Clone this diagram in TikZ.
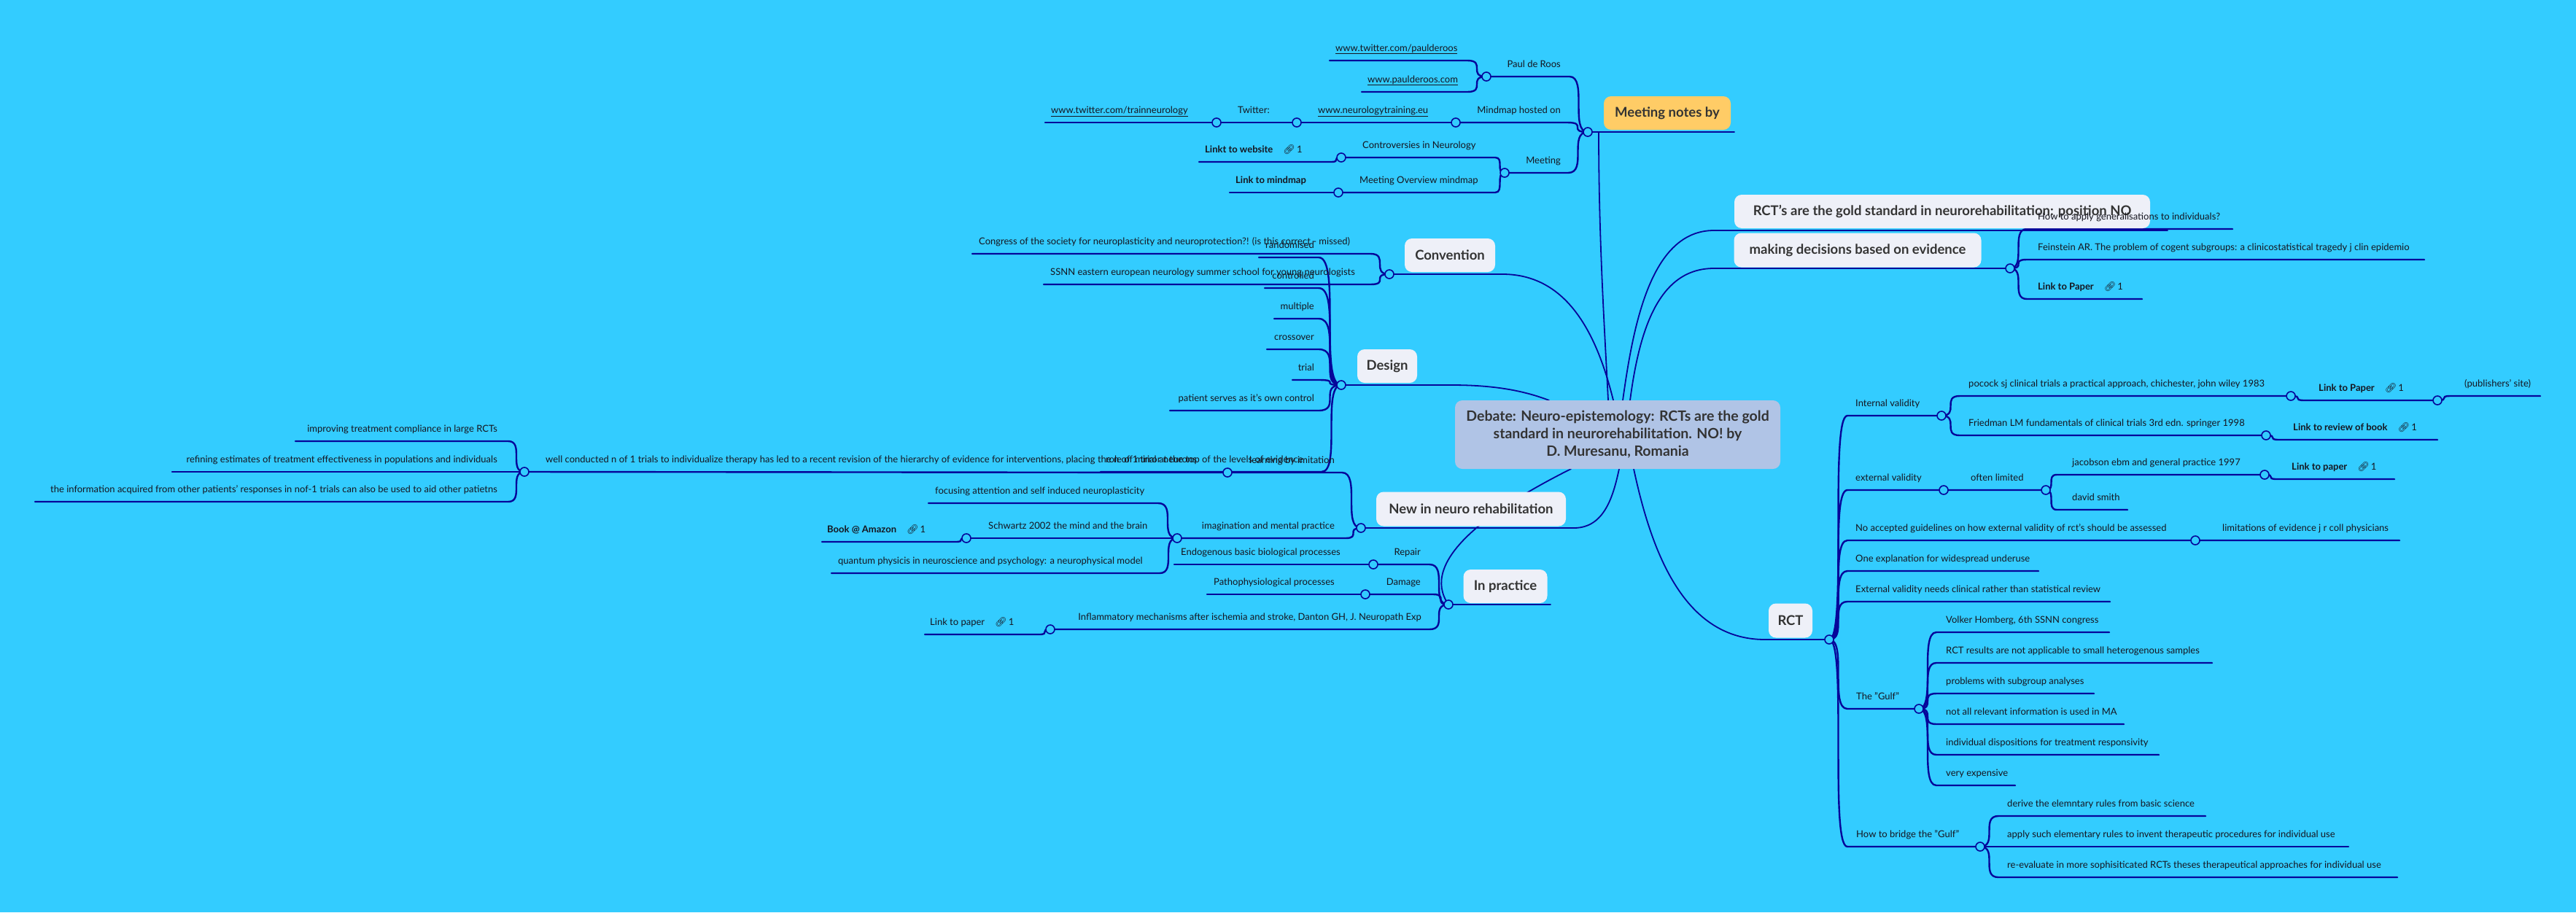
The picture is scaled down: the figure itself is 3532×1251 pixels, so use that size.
\documentclass[tikz,border=0pt]{standalone}
\usepackage{fontspec}
\setmainfont{Lato}
\newfontfamily\emo{Noto Emoji}
\definecolor{bg}{HTML}{33CCFF}
\definecolor{ln}{HTML}{06069A}
\definecolor{tx}{HTML}{15151F}
\definecolor{bx}{HTML}{EEF0F8}
\definecolor{rt}{HTML}{B0C4E6}
\definecolor{yl}{HTML}{FFCC66}
\tikzset{
 lf/.style={draw=ln,line width=2.4pt,line cap=round},
 knob/.style={circle,draw=ln,fill=bg,line width=1.6pt,minimum size=12pt,inner sep=0pt},
 lbl/.style={text=tx,font=\fontsize{13}{15}\selectfont,inner sep=0pt},
 lblb/.style={lbl,font=\fontsize{13}{15}\selectfont\bfseries},
 box/.style={rounded corners=10pt,fill=bx,text=black!80,font=\fontsize{18.5}{22}\selectfont\bfseries,inner sep=0pt,align=center}
}
\newcommand\lineL[5]{\draw[lf] (#1,#3) -- (#2,#3) .. controls (#4,#3) and (#2,#5) .. (#4,#5);}
\newcommand\lineR[5]{\draw[lf] (#4,#5) .. controls (#1,#5) and (#4,#3) .. (#1,#3) -- (#2,#3);}
\newcommand\T[3]{\node[lbl,anchor=base west] at (#1,#2-13) {#3};}
\newcommand\TR[3]{\node[lbl,anchor=base east] at (#1,#2-13) {#3};}
\newcommand\TB[3]{\node[lblb,anchor=base west] at (#1,#2-13) {#3\hspace{14pt}{\normalfont\emo 🔗}\,{\normalfont 1}};}
\newcommand\TL[3]{\node[lbl,anchor=base west] at (#1,#2-13) {#3\hspace{14pt}{\emo 🔗}\,1};}
\begin{document}
\begin{tikzpicture}[x=1pt,y=-1pt]
\fill[bg] (0,0) rectangle (3532,1251);
\useasboundingbox (0,0) rectangle (3532,1251);
% ---- connectors to root
\draw[lf,line width=1.8pt] (2177,181) -- (2378,181);
\draw[lf,line width=1.8pt] (2192,181) .. controls (2192,330) and (2200,450) .. (2205,549);
\draw[lf,line width=1.8pt] (2350,316) -- (2972,316);
\draw[lf,line width=1.8pt] (2350,316) .. controls (2265,316) and (2240,440) .. (2225,549);
\draw[lf,line width=1.8pt] (2350,368) -- (2756,368);
\draw[lf,line width=1.8pt] (2350,368) .. controls (2275,368) and (2248,450) .. (2235,549);
\draw[lf,line width=1.8pt] (1905,376) -- (2060,376) .. controls (2150,376) and (2190,460) .. (2212,549);
\draw[lf,line width=1.8pt] (1839,528) -- (1990,528) .. controls (2050,528) and (2090,536) .. (2124,549);
\draw[lf,line width=1.8pt] (1866,724) -- (2158,724) .. controls (2200,724) and (2212,680) .. (2220,643);
\draw[lf,line width=1.8pt] (1986,829) -- (2126,829);
\draw[lf,line width=1.8pt] (1986,829) .. controls (1945,770) and (2040,700) .. (2154,643);
\draw[lf,line width=1.8pt] (2508,877) -- (2420,877) .. controls (2310,877) and (2265,760) .. (2240,643);
% ---- meeting notes
\lineL{2038}{2152}{105}{2177}{181}
\lineL{1823}{2012}{83}{2038}{105}
\lineL{1867}{2012}{126}{2038}{105}
\lineL{1996}{2149}{168}{2177}{181}
\draw[lf] (1433,168) -- (1996,168);
\lineL{2063}{2150}{237}{2177}{181}
\lineL{1839}{2050}{216}{2063}{237}
\lineL{1644}{1825}{222}{1839}{216}
\lineL{1835}{2050}{264}{2063}{237}
\draw[lf] (1686,264) -- (1835,264);
% ---- convention
\lineL{1333}{1879}{348}{1905}{376}
\lineL{1431}{1879}{390}{1905}{376}
% ---- design
\lineL{1726}{1808}{353}{1839}{528}
\lineL{1734}{1808}{395}{1839}{528}
\lineL{1747}{1808}{437}{1839}{528}
\lineL{1737}{1808}{479}{1839}{528}
\lineL{1772}{1808}{521}{1839}{528}
\lineL{1604}{1808}{563}{1839}{528}
\lineL{1509}{1812}{647}{1839}{528}
% ---- new in neuro
\lineL{1683}{1840}{648}{1866}{724}
\draw[lf] (719,647) -- (1683,648);
\lineL{405}{697}{605}{719}{647}
\draw[lf] (236,647) -- (719,647);
\lineL{48}{697}{688}{719}{647}
\lineL{1614}{1845}{738}{1866}{724}
\lineL{1273}{1588}{690}{1614}{738}
\draw[lf] (1325,738) -- (1614,738);
\lineL{1127}{1310}{743}{1325}{738}
\lineL{1140}{1590}{786}{1614}{738}
% ---- in practice
\lineL{1883}{1960}{774}{1986}{829}
\draw[lf] (1610,774) -- (1883,774);
\lineL{1872}{1965}{815}{1986}{829}
\draw[lf] (1655,815) -- (1872,815);
\lineL{1440}{1960}{863}{1986}{829}
\lineL{1268}{1425}{870}{1440}{863}
% ---- making decisions
\lineR{2779}{3061}{314}{2756}{368}
\lineR{2779}{3324}{356}{2756}{368}
\lineR{2779}{2937}{410}{2756}{368}
% ---- RCT
\lineR{2533}{2662}{570}{2508}{877}
\lineR{2687}{3141}{543}{2662}{570}
\lineR{3160}{3342}{549}{3141}{543}
\lineR{3360}{3483}{543}{3342}{549}
\lineR{2687}{3107}{597}{2662}{570}
\lineR{3125}{3342}{603}{3107}{597}
\lineR{2533}{2805}{672}{2508}{877}
\lineR{2820}{3105}{651}{2805}{672}
\lineR{3122}{3283}{657}{3105}{651}
\lineR{2820}{2917}{699}{2805}{672}
\lineR{2533}{3290}{741}{2508}{877}
\lineR{2533}{2795}{783}{2508}{877}
\lineR{2533}{2893}{825}{2508}{877}
\lineR{2533}{2631}{972}{2508}{877}
\lineR{2655}{2892}{867}{2631}{972}
\lineR{2655}{3033}{909}{2631}{972}
\lineR{2655}{2871}{951}{2631}{972}
\lineR{2655}{2912}{993}{2631}{972}
\lineR{2655}{2960}{1035}{2631}{972}
\lineR{2655}{2763}{1077}{2631}{972}
\lineR{2533}{2715}{1161}{2508}{877}
\lineR{2740}{3024}{1119}{2715}{1161}
\lineR{2740}{3220}{1161}{2715}{1161}
\lineR{2740}{3287}{1203}{2715}{1161}
% ---- boxes
\node[box,fill=yl,minimum width=174pt,minimum height=46pt] (meet) at (2286,155) {Meeting notes by};
\node[box,minimum width=570pt,minimum height=46pt] (gold) at (2663,290) {RCT's are the gold standard in neurorehabilitation: position NO};
\node[box,minimum width=339pt,minimum height=47pt] (dec) at (2547,343) {making decisions based on evidence};
\node[box,minimum width=124pt,minimum height=46pt] (conv) at (1988,350) {Convention};
\node[box,minimum width=82pt,minimum height=46pt] (design) at (1902,502) {Design};
\node[box,fill=rt,minimum width=446pt,minimum height=94pt,font=\fontsize{19.5}{24}\selectfont\bfseries] (root) at (2218,596) {Debate: Neuro-epistemology: RCTs are the gold\\standard in neurorehabilitation. NO! by\\D. Muresanu, Romania};
\node[box,minimum width=260pt,minimum height=47pt] (new) at (2017,698) {New in neuro rehabilitation};
\node[box,minimum width=115pt,minimum height=46pt] (prac) at (2064,804) {In practice};
\node[box,minimum width=60pt,minimum height=47pt] (rct) at (2455,851) {RCT};
% ---- knobs
\foreach \p in {(2177,181),(2038,105),(1996,168),(1778,168),(1668,168),(2063,237),(1839,216),(1835,264),(1905,376),(1839,528),(1866,724),(1683,648),(719,647),(1614,738),(1325,738),(1986,829),(1883,774),(1872,815),(1440,863),(2756,368),(2508,877),(2662,570),(3141,543),(3342,549),(3107,597),(2665,672),(2805,672),(3105,651),(3010,741),(2631,972),(2715,1161)}
  \node[knob] at \p {};
% ---- labels
\TR{2140}{105}{Paul de Roos}
\T{1831}{83}{\underline{www.twitter.com/paulderoos}}
\T{1875}{126}{\underline{www.paulderoos.com}}
\TR{2140}{168}{Mindmap hosted on}
\T{1807}{168}{\underline{www.neurologytraining.eu}}
\T{1697}{168}{Twitter:}
\T{1441}{168}{\underline{www.twitter.com/trainneurology}}
\TR{2140}{237}{Meeting}
\T{1868}{216}{Controversies in Neurology}
\TB{1652}{222}{Linkt to website}
\T{1864}{264}{Meeting Overview mindmap}
\node[lblb,anchor=base west] at (1694,251) {Link to mindmap};
\T{1342}{348}{Congress of the society for neuroplasticity and neuroprotection?! (is this correct - missed)}
\T{1440}{390}{SSNN eastern european neurology summer school for young neurologists}
\TR{1802}{353}{randomised}
\TR{1802}{395}{controlled}
\TR{1802}{437}{multiple}
\TR{1802}{479}{crossover}
\TR{1802}{521}{trial}
\TR{1802}{563}{patient serves as it's own control}
\T{1516}{647}{role of mirror neurons}
\TR{1830}{648}{learning by imitation}
\T{748}{647}{well conducted n of 1 trials to individualize therapy has led to a recent revision of the hierarchy of evidence for interventions, placing the n of 1 trial at the top of the levels of evidence}
\TR{682}{605}{improving treatment compliance in large RCTs}
\TR{682}{647}{refining estimates of treatment effectiveness in populations and individuals}
\TR{682}{688}{the information acquired from other patients' responses in nof-1 trials can also be used to aid other patietns}
\TR{1830}{738}{imagination and mental practice}
\T{1282}{690}{focusing attention and self induced neuroplasticity}
\T{1355}{738}{Schwartz 2002 the mind and the brain}
\TB{1134}{743}{Book @ Amazon}
\T{1149}{786}{quantum physicis in neuroscience and psychology: a neurophysical model}
\TR{1948}{774}{Repair}
\T{1619}{774}{Endogenous basic biological processes}
\TR{1948}{815}{Damage}
\T{1664}{815}{Pathophysiological processes}
\TR{1949}{863}{Inflammatory mechanisms after ischemia and stroke, Danton GH, J. Neuropath Exp}
\TL{1275}{870}{Link to paper}
\T{2794}{314}{How to apply generalisations to individuals?}
\T{2794}{356}{Feinstein AR. The problem of cogent subgroups: a clinicostatistical tragedy j clin epidemio}
\TB{2794}{410}{Link to Paper}
\T{2544}{570}{Internal validity}
\T{2699}{543}{pocock sj clinical trials a practical approach, chichester, john wiley 1983}
\TB{3179}{549}{Link to Paper}
\T{3379}{543}{(publishers' site)}
\T{2699}{597}{Friedman LM fundamentals of clinical trials 3rd edn. springer 1998}
\TB{3144}{603}{Link to review of book}
\T{2544}{672}{external validity}
\T{2702}{672}{often limited}
\T{2841}{651}{jacobson ebm and general practice 1997}
\TB{3142}{657}{Link to paper}
\T{2841}{699}{david smith}
\T{2544}{741}{No accepted guidelines on how external validity of rct's should be assessed}
\T{3047}{741}{limitations of evidence j r coll physicians}
\T{2544}{783}{One explanation for widespread underuse}
\T{2544}{825}{External validity needs clinical rather than statistical review}
\T{2545}{972}{The "Gulf"}
\T{2668}{867}{Volker Homberg, 6th SSNN congress}
\T{2668}{909}{RCT results are not applicable to small heterogenous samples}
\T{2668}{951}{problems with subgroup analyses}
\T{2668}{993}{not all relevant information is used in MA}
\T{2668}{1035}{individual dispositions for treatment responsivity}
\T{2668}{1077}{very expensive}
\T{2545}{1161}{How to bridge the "Gulf"}
\T{2752}{1119}{derive the elemntary rules from basic science}
\T{2752}{1161}{apply such elementary rules to invent therapeutic procedures for individual use}
\T{2752}{1203}{re-evaluate in more sophisiticated RCTs theses therapeutical approaches for individual use}
\end{tikzpicture}
\end{document}
